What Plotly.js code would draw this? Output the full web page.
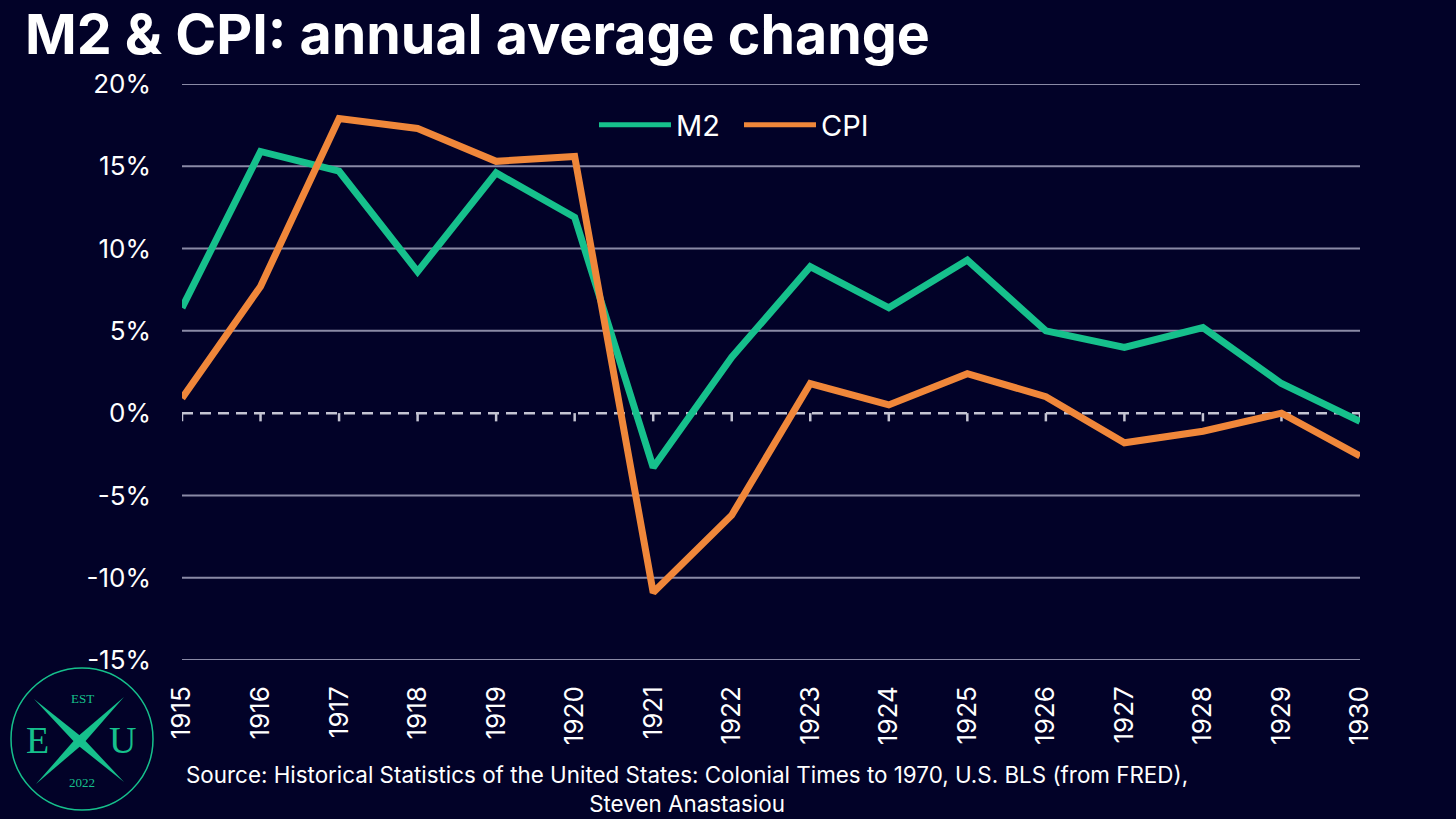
<!DOCTYPE html>
<html>
<head>
<meta charset="utf-8">
<script src="https://cdn.plot.ly/plotly-3.0.1.min.js"></script>
<style>
html,body{margin:0;padding:0;background:#020228;}
#chart{width:1456px;height:819px;}
</style>
</head>
<body>
<div id="chart"></div>
<script>
const years = [1915,1916,1917,1918,1919,1920,1921,1922,1923,1924,1925,1926,1927,1928,1929,1930];
const m2  = [6.4,15.9,14.7,8.6,14.6,11.9,-3.3,3.4,8.9,6.4,9.3,5.0,4.0,5.2,1.8,-0.5];
const cpi = [0.9,7.7,17.9,17.3,15.3,15.6,-10.9,-6.2,1.8,0.5,2.4,1.0,-1.8,-1.1,0.0,-2.6];
const yTicks = [-15,-10,-5,0,5,10,15,20];
const yTickText = yTicks.map(v => v + '%');

const BG = '#020228';
const GREEN = '#16c08c';
const ORANGE = '#f0873a';

const W = 1456, H = 819;
const L = 182, R = 96, T = 84, B = 159;
const PW = W - L - R, PH = H - T - B;
const px = x => (x - L) / PW;
const py = y => (T + PH - y) / PH;

const traces = [
  {x: years, y: m2, name: 'M2', type: 'scatter', mode: 'lines',
   line: {color: GREEN, width: 7}},
  {x: years, y: cpi, name: 'CPI', type: 'scatter', mode: 'lines',
   line: {color: ORANGE, width: 7}}
];

const shapes = [];
// horizontal gridlines (solid except at zero)
yTicks.filter(v => v !== 0).forEach(v => shapes.push({type: 'line', xref: 'paper', yref: 'y',
  x0: 0, x1: 1, y0: v, y1: v, line: {color: '#8a8aa6', width: 2}, layer: 'below'}));
// dashed zero line
shapes.push({type: 'line', xref: 'paper', yref: 'y', x0: 0, x1: 1, y0: 0, y1: 0,
  line: {color: '#c4c4d2', width: 2.5, dash: '11px,7px'}, layer: 'below'});
// small tick marks under zero line
years.forEach(yr => shapes.push({type: 'line', xref: 'x', yref: 'y', x0: yr, x1: yr, y0: 0, y1: -0.5,
  line: {color: '#c4c4d2', width: 2.5}, layer: 'below'}));

// logo: circle + X strokes
shapes.push({type: 'circle', xref: 'paper', yref: 'paper',
  x0: px(11), x1: px(153), y0: py(810), y1: py(668),
  line: {color: GREEN, width: 1.5}, fillcolor: 'rgba(0,0,0,0)'});
function spindle(x1, y1, x2, y2, w) {
  const mx = (x1 + x2) / 2, my = (y1 + y2) / 2;
  const dx = x2 - x1, dy = y2 - y1, len = Math.hypot(dx, dy);
  const nx = -dy / len * w, ny = dx / len * w;
  const pts = [[x1, y1], [mx + nx, my + ny], [x2, y2], [mx - nx, my - ny]];
  return 'M' + pts.map(p => px(p[0]).toFixed(5) + ',' + py(p[1]).toFixed(5)).join(' L') + ' Z';
}
shapes.push({type: 'path', xref: 'paper', yref: 'paper', path: spindle(34, 699, 124, 782, 4.5),
  fillcolor: GREEN, line: {width: 0}});
shapes.push({type: 'path', xref: 'paper', yref: 'paper', path: spindle(124, 697, 36, 784, 4.5),
  fillcolor: GREEN, line: {width: 0}});

const logoText = (t, x, y, size) => ({text: t, xref: 'paper', yref: 'paper', x: px(x), y: py(y),
  xanchor: 'center', yanchor: 'middle', showarrow: false,
  font: {family: 'Liberation Serif', size: size, color: GREEN}});

const annotations = [
  {text: 'Source: Historical Statistics of the United States: Colonial Times to 1970, U.S. BLS (from FRED),<br>Steven Anastasiou',
   xref: 'paper', yref: 'paper', x: px(687), y: py(789), xanchor: 'center', yanchor: 'middle',
   showarrow: false, align: 'center', font: {family: 'Inter', size: 22.4, color: '#ffffff'}},
  logoText('EST', 82, 698, 13),
  logoText('E', 37, 740, 38),
  logoText('U', 122, 740, 38),
  logoText('2022', 82, 782, 13)
];

const layout = {
  width: W, height: H,
  paper_bgcolor: BG, plot_bgcolor: BG,
  margin: {l: L, r: R, t: T, b: B, pad: 0},
  title: {text: '<b>M2 &amp; CPI: annual average change</b>', xref: 'container', yref: 'container',
    x: 25 / W, xanchor: 'left', y: 1 - 35 / H, yanchor: 'middle',
    font: {family: 'Inter', size: 55.5, color: '#ffffff'}},
  showlegend: true,
  legend: {orientation: 'h', x: px(594), y: py(125), xanchor: 'left', yanchor: 'middle',
    bgcolor: 'rgba(0,0,0,0)', font: {family: 'Inter', size: 29, color: '#ffffff'},
    itemwidth: 72, entrywidth: 58, entrywidthmode: 'pixels', tracegroupgap: 0, itemsizing: 'constant'},
  xaxis: {range: [1915, 1930], tickmode: 'array', tickvals: years, ticktext: years.map(String),
    tickangle: -90, showgrid: false, zeroline: false, showline: false, ticks: '',
    ticklabelstandoff: 20,
    tickfont: {family: 'Inter', size: 26, color: '#ffffff'}, fixedrange: true},
  yaxis: {range: [-15, 20], tickmode: 'array', tickvals: yTicks, ticktext: yTickText,
    showgrid: false, zeroline: false, showline: false,
    ticks: '', ticklabelstandoff: 30,
    tickfont: {family: 'Inter', size: 26, color: '#ffffff'}, fixedrange: true},
  shapes: shapes,
  annotations: annotations
};

Plotly.newPlot('chart', traces, layout, {displayModeBar: false, staticPlot: true});
</script>
</body>
</html>
